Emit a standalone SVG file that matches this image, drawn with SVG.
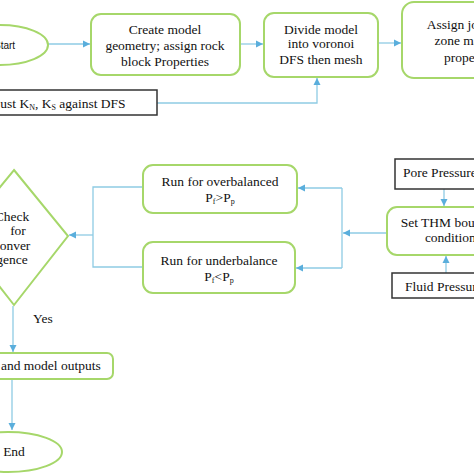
<svg xmlns="http://www.w3.org/2000/svg" width="474" height="474" viewBox="0 0 474 474">
<defs>
<style>
.g{fill:#fff;stroke:#a6d76a;stroke-width:2}
.k{fill:#fff;stroke:#333;stroke-width:1.5}
.t{font-family:"Liberation Serif","Times New Roman",serif;font-size:13.5px;fill:#111}
.c{text-anchor:middle}
.s{font-family:"Liberation Sans",Arial,sans-serif;font-size:10px;fill:#111}
.ln{fill:none;stroke:#8ecbe4;stroke-width:1.3}
.sub{font-size:8px}
</style>
<marker id="ah" markerWidth="8" markerHeight="8" refX="7" refY="4" orient="auto" markerUnits="userSpaceOnUse">
<path d="M0,0.5 L7,4 L0,7.5 Z" fill="#5aaedc"/>
</marker>
</defs>
<rect width="474" height="474" fill="#fff"/>

<g id="connectors">
<path class="ln" d="M48,44 H90" marker-end="url(#ah)"/>
<path class="ln" d="M240,44 H263" marker-end="url(#ah)"/>
<path class="ln" d="M378,43 H401" marker-end="url(#ah)"/>
<path class="ln" d="M157,103 H317 V78" marker-end="url(#ah)"/>
<path class="ln" d="M444,189 V206" marker-end="url(#ah)"/>
<path class="ln" d="M446,273 V256" marker-end="url(#ah)"/>
<path class="ln" d="M387,233 H343" marker-end="url(#ah)"/>
<path class="ln" d="M342,188 V268"/>
<path class="ln" d="M342,188 H298" marker-end="url(#ah)"/>
<path class="ln" d="M342,268 H296" marker-end="url(#ah)"/>
<path class="ln" d="M143,187 H93 V267 H143"/>
<path class="ln" d="M93,235 H69" marker-end="url(#ah)"/>
<path class="ln" d="M13,306 V352" marker-end="url(#ah)"/>
<path class="ln" d="M12,379 V430" marker-end="url(#ah)"/>
</g>

<g id="start">
<ellipse class="g" cx="0" cy="45" rx="48" ry="20"/>
<text class="s" x="-6" y="49">Start</text>
</g>

<g id="create">
<rect class="g" x="91" y="14" width="149" height="61" rx="10"/>
<text class="t c" x="165" y="34">Create model</text>
<text class="t c" x="165" y="50">geometry; assign rock</text>
<text class="t c" x="165" y="66">block Properties</text>
</g>

<g id="divide">
<rect class="g" x="264" y="13" width="114" height="64" rx="10"/>
<text class="t c" x="321" y="34">Divide model</text>
<text class="t c" x="321" y="48">into voronoi</text>
<text class="t c" x="321" y="64">DFS then mesh</text>
</g>

<g id="assign">
<rect class="g" x="402" y="2" width="150" height="76" rx="12"/>
<text class="t c" x="471" y="29">Assign joint and</text>
<text class="t c" x="471" y="45">zone material</text>
<text class="t c" x="471" y="62">properties</text>
</g>

<g id="adjust">
<rect class="k" x="-60" y="90" width="217" height="25"/>
<text class="t" x="-20" y="108">Adjust K<tspan class="sub" dy="2">N</tspan><tspan dy="-2">, K</tspan><tspan class="sub" dy="2">S</tspan><tspan dy="-2"> against DFS</tspan></text>
</g>

<g id="check">
<polygon class="g" points="14,170 68,236 14,305 -40,236"/>
<text class="t c" x="12" y="221">Check</text>
<text class="t c" x="18" y="235">for</text>
<text class="t c" x="12" y="250">conver</text>
<text class="t c" x="12" y="264">gence</text>
</g>

<g id="overbalanced">
<rect class="g" x="143" y="165" width="154" height="48" rx="10"/>
<text class="t c" x="220" y="186">Run for overbalanced</text>
<text class="t c" x="220" y="202">P<tspan class="sub" dy="2">f</tspan><tspan dy="-2">&gt;P</tspan><tspan class="sub" dy="2">p</tspan></text>
</g>

<g id="underbalance">
<rect class="g" x="143" y="242" width="152" height="51" rx="10"/>
<text class="t c" x="219" y="265">Run for underbalance</text>
<text class="t c" x="219" y="281">P<tspan class="sub" dy="2">f</tspan><tspan dy="-2">&lt;P</tspan><tspan class="sub" dy="2">p</tspan></text>
</g>

<g id="thm">
<rect class="g" x="387" y="207" width="140" height="48" rx="10"/>
<text class="t c" x="453" y="227">Set THM boundary</text>
<text class="t c" x="453" y="242">conditions</text>
</g>

<g id="pore">
<rect class="k" x="395" y="159" width="100" height="30"/>
<text class="t" x="403" y="177">Pore Pressure</text>
</g>

<g id="fluid">
<rect class="k" x="392" y="273" width="110" height="25"/>
<text class="t" x="405" y="291">Fluid Pressure</text>
</g>

<g id="yes">
<text class="t" x="33" y="323">Yes</text>
</g>

<g id="outputs">
<rect class="g" x="-60" y="353" width="173" height="26" rx="6"/>
<text class="t" x="1" y="370">and model outputs</text>
</g>

<g id="end">
<ellipse class="g" cx="8" cy="452" rx="54" ry="20"/>
<text class="t c" x="14" y="456">End</text>
</g>
</svg>
